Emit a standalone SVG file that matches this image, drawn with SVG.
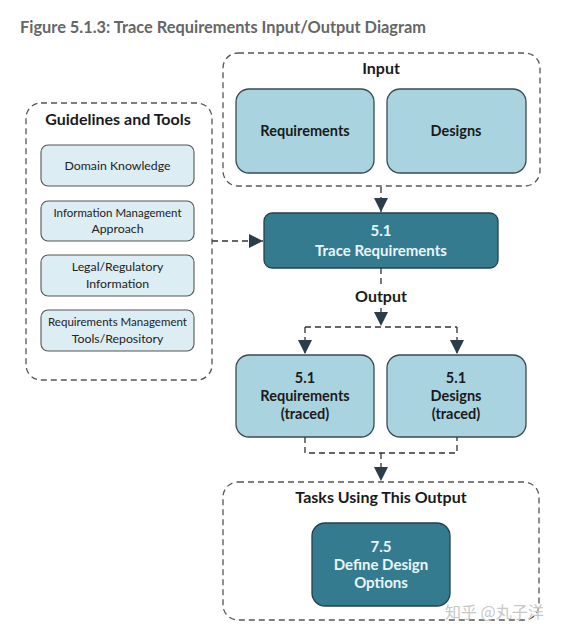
<svg xmlns="http://www.w3.org/2000/svg" width="564" height="637" viewBox="0 0 564 637">
<defs>
<style>
.title{font-family:Lato,"Liberation Sans",sans-serif;font-weight:bold;font-size:17px;fill:#666}
.grp{fill:none;stroke:#555;stroke-width:1.3;stroke-dasharray:6 4}
.hdr{font-family:Lato,"Liberation Sans",sans-serif;font-weight:bold;font-size:16px;fill:#1a1a1a;text-anchor:middle}
.lb{fill:#a9d3df;stroke:#3b4a52;stroke-width:1.3}
.lt{fill:#dcedf3;stroke:#555;stroke-width:1.1}
.dk{fill:#357b90;stroke:#24404c;stroke-width:1.3}
.t14{font-family:Lato,"Liberation Sans",sans-serif;font-weight:bold;font-size:14.5px;fill:#1a1a1a;text-anchor:middle}
.tw{font-family:Lato,"Liberation Sans",sans-serif;font-weight:bold;font-size:15px;fill:#eaf6fa;text-anchor:middle}
.t12{font-family:Lato,"Liberation Sans",sans-serif;font-size:12.3px;fill:#222;text-anchor:middle}
.cn{fill:none;stroke:#333;stroke-width:1.3;stroke-dasharray:6 4}
</style>
<marker id="ah" viewBox="0 0 10 10" refX="10" refY="5" markerWidth="14" markerHeight="14" markerUnits="userSpaceOnUse" orient="auto">
<path d="M0,0 L10,5 L0,10 Z" fill="#2b3d49"/>
</marker>
</defs>
<rect width="564" height="637" fill="#fff"/>
<text class="title" x="20" y="33" textLength="406" lengthAdjust="spacingAndGlyphs">Figure 5.1.3: Trace Requirements Input/Output Diagram</text>

<g id="input">
<rect class="grp" x="223" y="53" width="317" height="133" rx="15"/>
<text class="hdr" x="381" y="74">Input</text>
</g>
<g id="in-requirements">
<rect class="lb" x="236" y="89" width="138" height="84" rx="13"/>
<text class="t14" x="305" y="136">Requirements</text>
</g>
<g id="in-designs">
<rect class="lb" x="387" y="89" width="139" height="84" rx="13"/>
<text class="t14" x="456" y="136">Designs</text>
</g>

<g id="guidelines">
<rect class="grp" x="26" y="103" width="186" height="277" rx="15"/>
<text class="hdr" x="118" y="125">Guidelines and Tools</text>
</g>
<g id="g-domain">
<rect class="lt" x="41" y="145" width="153" height="41" rx="7"/>
<text class="t12" x="117.5" y="170">Domain Knowledge</text>
</g>
<g id="g-info">
<rect class="lt" x="41" y="201" width="153" height="40" rx="7"/>
<text class="t12" x="117.5" y="217" textLength="128" lengthAdjust="spacingAndGlyphs">Information Management</text>
<text class="t12" x="117.5" y="233">Approach</text>
</g>
<g id="g-legal">
<rect class="lt" x="41" y="255" width="153" height="41" rx="7"/>
<text class="t12" x="117.5" y="271">Legal/Regulatory</text>
<text class="t12" x="117.5" y="288">Information</text>
</g>
<g id="g-tools">
<rect class="lt" x="41" y="310" width="153" height="41" rx="7"/>
<text class="t12" x="117.5" y="326" textLength="139" lengthAdjust="spacingAndGlyphs">Requirements Management</text>
<text class="t12" x="117.5" y="343">Tools/Repository</text>
</g>

<g id="trace">
<rect class="dk" x="264" y="213" width="234" height="55" rx="8"/>
<text class="tw" x="381" y="236">5.1</text>
<text class="tw" x="381" y="256">Trace Requirements</text>
</g>

<g id="output-label">
<text class="hdr" x="381" y="302">Output</text>
</g>

<g id="out-requirements">
<rect class="lb" x="236" y="355" width="138" height="82" rx="13"/>
<text class="t14" x="305" y="383">5.1</text>
<text class="t14" x="305" y="401">Requirements</text>
<text class="t14" x="305" y="419">(traced)</text>
</g>
<g id="out-designs">
<rect class="lb" x="387" y="355" width="139" height="82" rx="13"/>
<text class="t14" x="456" y="383">5.1</text>
<text class="t14" x="456" y="401">Designs</text>
<text class="t14" x="456" y="419">(traced)</text>
</g>

<g id="tasks">
<rect class="grp" x="223" y="482" width="316" height="138" rx="15"/>
<text class="hdr" x="381" y="503">Tasks Using This Output</text>
</g>
<g id="define-design">
<rect class="dk" x="312" y="523" width="138" height="83" rx="13"/>
<text class="tw" x="381" y="552">7.5</text>
<text class="tw" x="381" y="570">Define Design</text>
<text class="tw" x="381" y="588">Options</text>
</g>

<g id="connectors">
<path class="cn" d="M381,187 V212" marker-end="url(#ah)"/>
<path class="cn" d="M212,241 H263" marker-end="url(#ah)"/>
<path class="cn" d="M381,268 V288"/>
<path class="cn" d="M381,308 V326" marker-end="url(#ah)"/>
<path class="cn" d="M305,327 H457"/>
<path class="cn" d="M305,327 V354" marker-end="url(#ah)"/>
<path class="cn" d="M457,327 V354" marker-end="url(#ah)"/>
<path class="cn" d="M305,437 V453 H457 V437"/>
<path class="cn" d="M381,453 V481" marker-end="url(#ah)"/>
</g>

<text x="445" y="618" font-family="Noto Sans CJK SC,sans-serif" font-size="16" fill="#c8c8c8">知乎 @丸子洋</text>
</svg>
